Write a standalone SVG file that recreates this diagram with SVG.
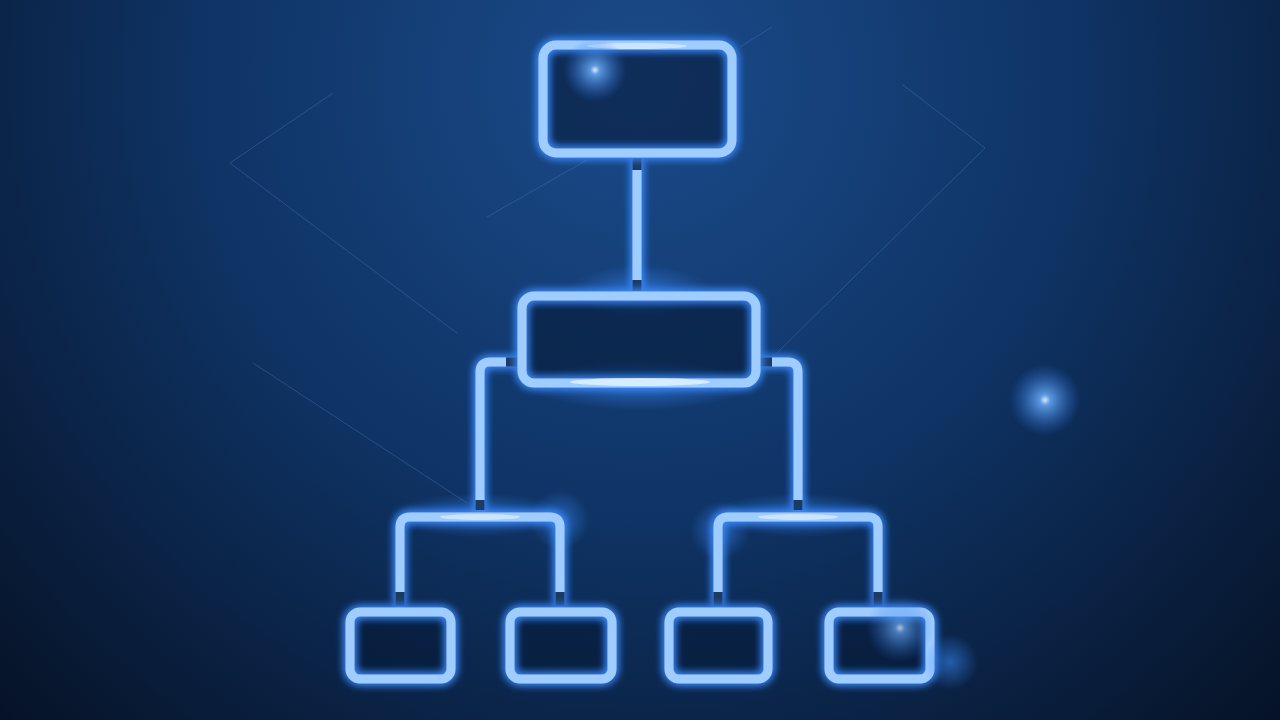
<svg xmlns="http://www.w3.org/2000/svg" width="1280" height="720" viewBox="0 0 1280 720">
<defs>
<radialGradient id="bg" cx="640" cy="80" r="950" gradientUnits="userSpaceOnUse">
<stop offset="0" stop-color="#1b4b8a"/>
<stop offset="0.45" stop-color="#0f3466"/>
<stop offset="1" stop-color="#050f20"/>
</radialGradient>
<radialGradient id="spot">
<stop offset="0" stop-color="#d8ecff" stop-opacity="1"/>
<stop offset="0.15" stop-color="#6fb2ff" stop-opacity="0.8"/>
<stop offset="1" stop-color="#2a6fe0" stop-opacity="0"/>
</radialGradient>
<radialGradient id="haze">
<stop offset="0" stop-color="#3a8cff" stop-opacity="0.55"/>
<stop offset="1" stop-color="#3a8cff" stop-opacity="0"/>
</radialGradient>
<filter id="glow" x="-30%" y="-30%" width="160%" height="160%">
<feGaussianBlur in="SourceAlpha" stdDeviation="5" result="a"/>
<feFlood flood-color="#3d8bff"/>
<feComposite in2="a" operator="in" result="b"/>
<feMerge><feMergeNode in="b"/><feMergeNode in="b"/><feMergeNode in="SourceGraphic"/></feMerge>
</filter>
</defs>
<style>
.tube{fill:none;stroke:#9fcdff;stroke-width:9;stroke-linecap:butt;stroke-linejoin:round}
.fill{fill:#071a38;fill-opacity:0.6}
.box{fill:none;stroke:#9fcdff;stroke-width:9;filter:url(#glow)}
.tip{stroke:#1a3a60;stroke-width:9}
.faint{stroke:#4f86c8;stroke-width:1;stroke-opacity:0.35;fill:none}
</style>
<rect width="1280" height="720" fill="url(#bg)"/>
<g id="bglines">
<polyline class="faint" points="333,93 230,163 457,333"/>
<line class="faint" x1="587" y1="160" x2="487" y2="217"/>
<line class="faint" x1="253" y1="363" x2="467" y2="503"/>
<polyline class="faint" points="903,85 985,148 777,353"/>
<line class="faint" x1="740" y1="47" x2="772" y2="27"/>
</g>
<g id="hazes">
<ellipse cx="640" cy="385" rx="110" ry="25" fill="url(#haze)"/>
<ellipse cx="640" cy="290" rx="70" ry="25" fill="url(#haze)"/>
<ellipse cx="480" cy="515" rx="90" ry="22" fill="url(#haze)"/>
<ellipse cx="798" cy="515" rx="90" ry="22" fill="url(#haze)"/>
<ellipse cx="720" cy="530" rx="30" ry="30" fill="url(#haze)"/>
<ellipse cx="560" cy="520" rx="30" ry="30" fill="url(#haze)"/>
</g>
<g id="connectors" filter="url(#glow)">
<path class="tube" d="M637,170 V280"/>
<path class="tube" d="M506,362 H490 Q480,362 480,372 V500"/>
<path class="tube" d="M772,362 H788 Q798,362 798,372 V500"/>
<path class="tube" d="M400,592 V527 Q400,517 410,517 H550 Q560,517 560,527 V592"/>
<path class="tube" d="M718,592 V527 Q718,517 728,517 H868 Q878,517 878,527 V592"/>
<path class="tip" d="M637,158 V170 M637,280 V291 M506,362 H519 M772,362 H759 M480,500 V510 M798,500 V510 M400,592 V606 M560,592 V606 M718,592 V606 M878,592 V606"/>
</g>
<g id="n-top"><rect class="fill" x="543" y="45" width="189" height="108" rx="13"/><rect class="box" x="543" y="45" width="189" height="108" rx="13"/></g>
<g id="n-mid"><rect class="fill" x="522" y="296" width="234" height="87" rx="12"/><rect class="box" x="522" y="296" width="234" height="87" rx="12"/></g>
<g id="n-b1"><rect class="fill" x="350" y="612" width="101" height="67" rx="10"/><rect class="box" x="350" y="612" width="101" height="67" rx="10"/></g>
<g id="n-b2"><rect class="fill" x="510" y="612" width="102" height="67" rx="10"/><rect class="box" x="510" y="612" width="102" height="67" rx="10"/></g>
<g id="n-b3"><rect class="fill" x="669" y="612" width="99" height="67" rx="10"/><rect class="box" x="669" y="612" width="99" height="67" rx="10"/></g>
<g id="n-b4"><rect class="fill" x="829" y="612" width="101" height="67" rx="10"/><rect class="box" x="829" y="612" width="101" height="67" rx="10"/></g>
<g id="highlights">
<ellipse cx="640" cy="382" rx="70" ry="4" fill="#eaf5ff" opacity="0.75"/>
<ellipse cx="637" cy="46" rx="50" ry="3" fill="#eaf5ff" opacity="0.6"/>
<ellipse cx="480" cy="517" rx="40" ry="3" fill="#eaf5ff" opacity="0.6"/>
<ellipse cx="798" cy="517" rx="40" ry="3" fill="#eaf5ff" opacity="0.6"/>
</g>
<g id="spots">
<circle cx="595" cy="70" r="32" fill="url(#spot)"/>
<circle cx="1045" cy="400" r="36" fill="url(#spot)"/>
<circle cx="900" cy="628" r="34" fill="url(#spot)" opacity="0.8"/>
<circle cx="950" cy="662" r="28" fill="url(#haze)"/>
</g>
</svg>
